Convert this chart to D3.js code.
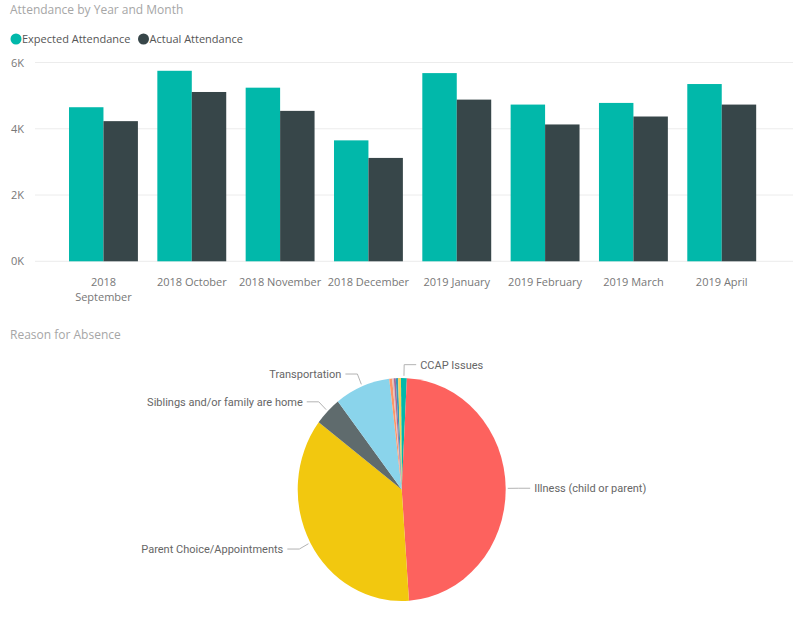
<!DOCTYPE html>
<html>
<head>
<meta charset="utf-8">
<script src="https://cdn.jsdelivr.net/npm/d3@7"></script>
<style>
  html, body { margin: 0; padding: 0; background: #fff; }
  svg { display: block; }
</style>
</head>
<body>
<svg id="chart" width="810" height="627"></svg>
<script>
// ---------- data ----------
const months = ["2018 September", "2018 October", "2018 November", "2018 December",
                "2019 January", "2019 February", "2019 March", "2019 April"];
const expectedAttendance = [4650, 5750, 5240, 3650, 5680, 4730, 4780, 5350];
const actualAttendance   = [4230, 5110, 4540, 3120, 4880, 4130, 4370, 4730];
const seriesNames = ["Expected Attendance", "Actual Attendance"];
const yTicks = [0, 2000, 4000, 6000];
const yTickLabels = ["0K", "2K", "4K", "6K"];

const absenceReasons = ["CCAP Issues", "Illness (child or parent)", "Parent Choice/Appointments",
  "Siblings and/or family are home", "Transportation", "Vacation", "Weather", "Behavior",
  "Unknown", "Other"];
const absenceShares = [0.9, 48.1, 36.4, 4.2, 8.6, 0.45, 0.25, 0.3, 0.35, 0.45];
const labelledReasons = ["CCAP Issues", "Illness (child or parent)", "Parent Choice/Appointments",
  "Siblings and/or family are home", "Transportation"];

// ---------- styles ----------
const barColors = ["#01B8AA", "#374649"];
const pieColors = ["#01B8AA", "#FD625E", "#F2C80F", "#5F6B6D", "#8AD4EB",
                   "#FE9666", "#DFBFBF", "#A66999", "#3599B8", "#F4D25A"];
const uiFont = "'Open Sans', 'Noto Sans', sans-serif";
const labelFont = "Roboto, 'Noto Sans', sans-serif";

const svg = d3.select("#chart");

// ---------- bar chart ----------
svg.append("text").attr("x", 10).attr("y", 14)
  .attr("font-family", uiFont).attr("font-size", 12).attr("fill", "#a6a6a6")
  .text("Attendance by Year and Month");

// legend
const legend = svg.append("g").attr("font-family", uiFont).attr("font-size", 11).attr("fill", "#555");
let lx = 16;
seriesNames.forEach((name, i) => {
  legend.append("circle").attr("cx", lx).attr("cy", 39).attr("r", 5.5).attr("fill", barColors[i]);
  const t = legend.append("text").attr("x", lx + 6).attr("y", 43).text(name);
  lx += 6 + t.node().getComputedTextLength() + 13;
});

const y = d3.scaleLinear().domain([0, 6000]).range([261.3, 62.5]);
const x0 = d3.scaleBand().domain(months).range([59.3, 765.9]).paddingInner(0.22).paddingOuter(0.11);
const x1 = d3.scaleBand().domain(seriesNames).range([0, x0.bandwidth()]);

// gridlines
svg.append("g").selectAll("line").data(yTicks).join("line")
  .attr("x1", 35).attr("x2", 793)
  .attr("y1", d => y(d)).attr("y2", d => y(d))
  .attr("stroke", "#ececec").attr("stroke-width", 1);

// y axis
const yAxis = svg.append("g").attr("transform", "translate(24,0)")
  .call(d3.axisLeft(y).tickValues(yTicks).tickSize(0).tickPadding(0)
        .tickFormat((d, i) => yTickLabels[i]));
yAxis.select(".domain").remove();
yAxis.selectAll("text").attr("font-family", uiFont).attr("font-size", 11).attr("fill", "#777");

// bars
const groups = svg.append("g").selectAll("g").data(months).join("g")
  .attr("transform", d => `translate(${x0(d)},0)`);
groups.selectAll("rect")
  .data((m, i) => [
    { s: seriesNames[0], v: expectedAttendance[i], c: 0 },
    { s: seriesNames[1], v: actualAttendance[i], c: 1 }])
  .join("rect")
  .attr("x", d => x1(d.s)).attr("width", x1.bandwidth())
  .attr("y", d => y(d.v)).attr("height", d => y(0) - y(d.v))
  .attr("fill", d => barColors[d.c]);

// x axis labels
const xAxis = svg.append("g").attr("transform", `translate(0,${y(0)})`)
  .call(d3.axisBottom(x0).tickSize(0).tickPadding(0));
xAxis.select(".domain").remove();
xAxis.selectAll("text").attr("font-family", uiFont).attr("font-size", 11).attr("fill", "#777")
  .attr("dy", null).attr("y", 25)
  .each(function (d) {
    const t = d3.select(this);
    const maxW = x0.step() - 4.8;
    if (this.getComputedTextLength() > maxW) {
      const words = d.split(" ");
      t.text(null);
      words.forEach((w, i) => {
        t.append("tspan").attr("x", 0).attr("y", 25 + i * 15).text(w);
      });
    }
  });

// ---------- pie chart ----------
svg.append("text").attr("x", 10).attr("y", 339)
  .attr("font-family", uiFont).attr("font-size", 12).attr("fill", "#a6a6a6")
  .text("Reason for Absence");

const cx = 401.7, cy = 489.5, r = 104, yStretch = 1.072;
const startA = -0.4 * Math.PI / 180;
const pie = d3.pie().sort(null).value(d => d.v).startAngle(startA).endAngle(startA + 2 * Math.PI);
const pieData = pie(absenceReasons.map((n, i) => ({ n, v: absenceShares[i], c: pieColors[i] })));
const arc = d3.arc().innerRadius(0).outerRadius(r);

const pg = svg.append("g").attr("transform", `translate(${cx},${cy}) scale(1,${yStretch})`);
pg.selectAll("path").data(pieData).join("path")
  .attr("d", arc).attr("fill", d => d.data.c);

// labels and leaders
const pt = (a, rr) => [cx + Math.sin(a) * rr, cy - Math.cos(a) * rr * yStretch];
const lg = svg.append("g");
pieData.filter(d => labelledReasons.includes(d.data.n)).forEach(d => {
  const a = (d.startAngle + d.endAngle) / 2;
  const p0 = pt(a, r * 1.02);
  const p1 = pt(a, r * 1.12);
  const right = Math.sin(a) >= 0;
  const p2 = [p1[0] + (right ? 12 : -12), p1[1]];
  lg.append("polyline").attr("points", [p0, p1, p2].map(p => p.join(",")).join(" "))
    .attr("fill", "none").attr("stroke", "#b3b3b3").attr("stroke-width", 1);
  lg.append("text").attr("x", p2[0] + (right ? 4 : -4)).attr("y", p2[1] + 4)
    .attr("text-anchor", right ? "start" : "end")
    .attr("font-family", labelFont).attr("font-size", 11).attr("fill", "#666")
    .text(d.data.n);
});
</script>
</body>
</html>
